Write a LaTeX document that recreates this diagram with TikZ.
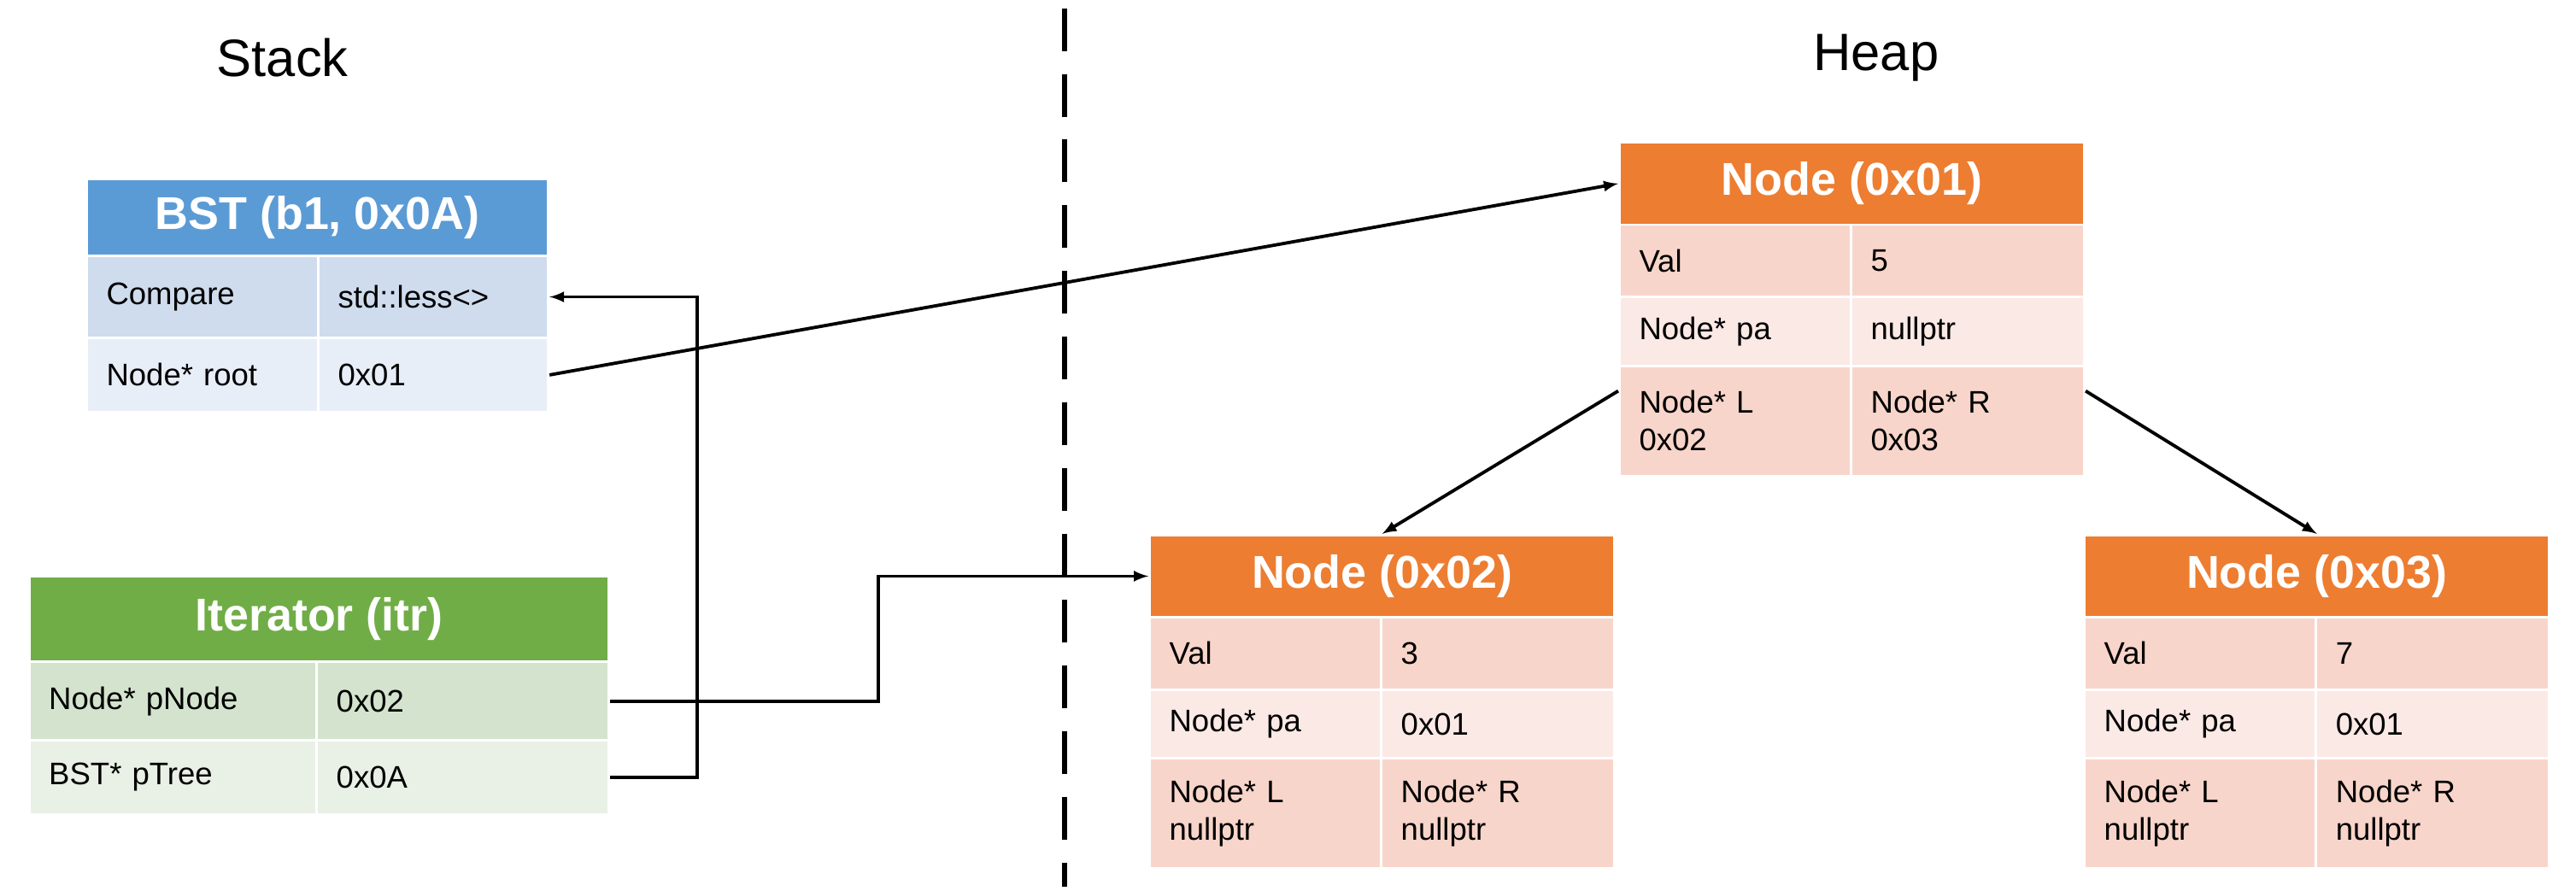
\documentclass[tikz,border=0pt]{standalone}
\usepackage{fontspec}
\setmainfont{Liberation Sans}
\usetikzlibrary{positioning}
\definecolor{bstblue}{HTML}{5B9BD5}
\definecolor{bstrowA}{HTML}{CFDCEE}
\definecolor{bstrowB}{HTML}{E8EEF7}
\definecolor{itrgreen}{HTML}{70AD47}
\definecolor{itrrowA}{HTML}{D4E3CD}
\definecolor{itrrowB}{HTML}{E9F0E6}
\definecolor{nodeorange}{HTML}{ED7D31}
\definecolor{noderowA}{HTML}{F8D5CA}
\definecolor{noderowB}{HTML}{FBE9E5}
\tikzset{
  cell/.style={draw=white, line width=1.5pt, anchor=north west, inner sep=0pt,
    font=\fontsize{19}{23}\selectfont, align=left},
  title/.style={cell, font=\fontsize{28}{32}\selectfont\bfseries, text=white, align=center},
  link/.style={-latex, line width=2pt}
}
\begin{document}
\begin{tikzpicture}[x=1pt,y=1pt]
\useasboundingbox (0,0) rectangle (1568,-542);

\node[font=\fontsize{32}{36}\selectfont] (stack) at (172,-35) {Stack};
\node[font=\fontsize{32}{36}\selectfont] (heap) at (1142,-35) {Heap};
\draw[line width=3.5pt, dash pattern=on 26pt off 14pt] (648,-5) -- (648,-540);

% BST on stack
\node[title, fill=bstblue, minimum width=281, minimum height=47] (bstT) at (52,-108) {BST (b1, 0x0A)};
\node[cell, fill=bstrowA, minimum width=141, minimum height=50, text width=117] (bstCk) at (52,-155) {Compare};
\node[cell, fill=bstrowA, minimum width=140, minimum height=50, text width=116] (bstCv) at (193,-155) {std::less<>};
\node[cell, fill=bstrowB, minimum width=141, minimum height=45, text width=117] (bstRk) at (52,-205) {Node* root};
\node[cell, fill=bstrowB, minimum width=140, minimum height=45, text width=116] (bstRv) at (193,-205) {0x01};

% Iterator on stack
\node[title, fill=itrgreen, minimum width=353, minimum height=52] (itrT) at (17,-350) {Iterator (itr)};
\node[cell, fill=itrrowA, minimum width=175, minimum height=48, text width=151] (itrPk) at (17,-402) {Node* pNode};
\node[cell, fill=itrrowA, minimum width=178, minimum height=48, text width=154] (itrPv) at (192,-402) {0x02};
\node[cell, fill=itrrowB, minimum width=175, minimum height=45, text width=151] (itrTk) at (17,-450) {BST* pTree};
\node[cell, fill=itrrowB, minimum width=178, minimum height=45, text width=154] (itrTv) at (192,-450) {0x0A};

% heap nodes
\foreach \id/\x/\y/\k/\v/\pa/\l/\r in {01/985/-86/1126/5/nullptr/0x02/0x03,
    02/699/-325/840/3/0x01/nullptr/nullptr, 03/1268/-325/1409/7/0x01/nullptr/nullptr} {
  \node[title, fill=nodeorange, minimum width=283, minimum height=50] (n\id T) at (\x,\y) {Node (0x\id)};
  \node[cell, fill=noderowA, minimum width=\k-\x, minimum height=44, text width=\k-\x-24] (n\id Vk) at (\x,\y-50) {Val};
  \node[cell, fill=noderowA, minimum width=\x+283-\k, minimum height=44, text width=\x+259-\k] (n\id Vv) at (\k,\y-50) {\v};
  \node[cell, fill=noderowB, minimum width=\k-\x, minimum height=42, text width=\k-\x-24] (n\id Pk) at (\x,\y-94) {Node* pa};
  \node[cell, fill=noderowB, minimum width=\x+283-\k, minimum height=42, text width=\x+259-\k] (n\id Pv) at (\k,\y-94) {\pa};
  \node[cell, fill=noderowA, minimum width=\k-\x, minimum height=67, text width=\k-\x-24] (n\id L) at (\x,\y-136) {Node* L\\\l};
  \node[cell, fill=noderowA, minimum width=\x+283-\k, minimum height=67, text width=\x+259-\k] (n\id R) at (\k,\y-136) {Node* R\\\r};
}

% pointers
\draw[link] (bstRv.east) -- (n01T.west);
\draw[link] ([yshift=-16pt]n01L.north west) -- (n02T.north);
\draw[link] ([yshift=-16pt]n01R.north east) -- (n03T.north);
\draw[link] (itrPv.east) -- ++(163,0) |- (n02T.west);
\draw[link] (itrTv.east) -- ++(53,0) |- (bstCv.east);
\end{tikzpicture}
\end{document}
